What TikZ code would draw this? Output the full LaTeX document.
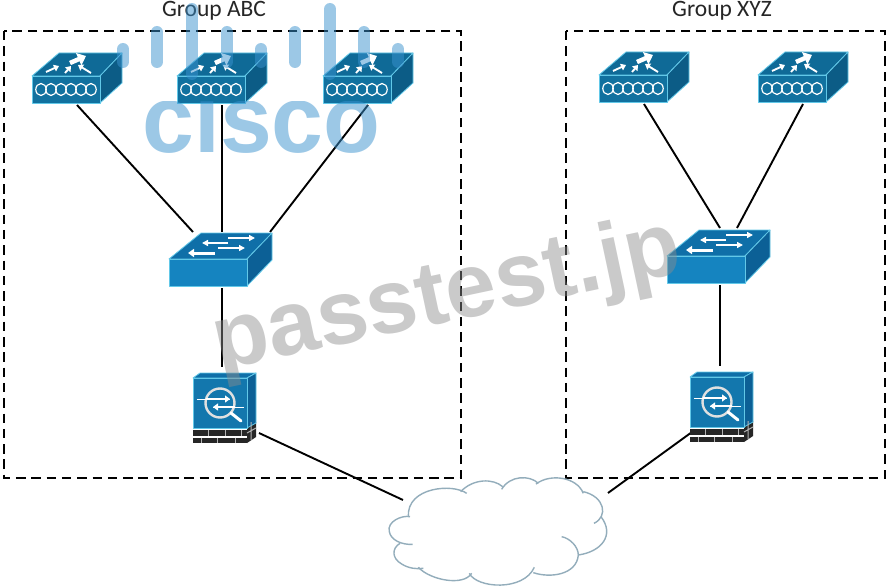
\documentclass[tikz,border=0pt]{standalone}
\usepackage{fontspec}
\setmainfont{Carlito}
\newfontfamily\wmfont{Liberation Sans}
\usetikzlibrary{arrows.meta}
\definecolor{hubfront}{HTML}{11719F}
\definecolor{hubtop}{HTML}{0F6A97}
\definecolor{hubside}{HTML}{0C5C86}
\definecolor{swfront}{HTML}{1584C0}
\definecolor{swtop}{HTML}{0F6FA8}
\definecolor{swside}{HTML}{0C6096}
\definecolor{edgeblue}{HTML}{62C8E8}
\definecolor{cloudline}{HTML}{93ADBB}
\definecolor{cisco}{HTML}{3A92CF}
\tikzset{
  device/.style={inner sep=0pt,outer sep=2pt,draw=none},
  link/.style={draw=black,line width=1.9pt},
  grp/.style={draw=black,line width=2.1pt,dash pattern=on 9.5pt off 5.8pt},
  label/.style={font=\fontsize{23.5}{23.5}\selectfont,text=black!85},
  facet/.style={draw=edgeblue,line width=.8pt,line join=round},
  wave/.style={draw=white,line width=1.2pt},
  hubarrow/.style={draw=white,line width=1.9pt,-{Triangle[length=5pt,width=7pt]}},
  swarrow/.style={draw=white,line width=1.4pt,-{Triangle[length=6pt,width=6pt]}},
  bar/.style={draw=cisco,opacity=.5,line width=12pt,line cap=round},
  hub/.pic={
    \path[facet,fill=hubtop] (0,0) -- (27,-23) -- (90,-23) -- (68,0) -- cycle;
    \path[facet,fill=hubside] (68,0) -- (90,-23) -- (90,7) -- (68,27) -- cycle;
    \path[facet,fill=hubfront] (0,0) rectangle (68,27);
    \foreach \lx in {9,19,29,39,49,59}
      \draw[wave] (\lx,13.5) ellipse (5.2 and 6);
    \draw[hubarrow] (14,-4) -- (27,-10);
    \draw[hubarrow] (33,-3) -- (39,-10);
    \draw[hubarrow] (59,-3) -- (46,-11);
    \draw[draw=white,line width=4.5pt,-{Triangle[length=8pt,width=13pt]}] (38,-13) -- (54,-20);
  },
  lanswitch/.pic={
    \path[facet,fill=swtop] (0,0) -- (32,-26) -- (103,-26) -- (78,0) -- cycle;
    \path[facet,fill=swside] (78,0) -- (103,-26) -- (103,1) -- (78,27) -- cycle;
    \path[facet,fill=swfront] (0,0) rectangle (78,27);
    \draw[swarrow] (59,-21) -- (86,-21);
    \draw[swarrow,line width=2.2pt] (59,-16) -- (33,-16);
    \draw[swarrow] (49,-11) -- (76,-11);
    \draw[swarrow,line width=3pt,-{Triangle[length=6pt,width=8pt]}] (46,-6) -- (19,-6);
  },
  firewall/.pic={
    \fill[black!85] (54,47) -- (63,44) -- (63,59) -- (54,65) -- cycle;
    \path[facet,fill=swtop] (0,0) -- (7,-5) -- (63,-5) -- (54,0) -- cycle;
    \path[facet,fill=swside] (54,0) -- (63,-5) -- (63,45) -- (54,50) -- cycle;
    \path[facet,fill=swfront!90!black] (0,0) rectangle (54,50);
    \fill[black!85] (0,52) rectangle (54,58);
    \fill[black!85] (0,59.5) rectangle (54,65);
    \draw[black!30,line width=1pt] (15,52) -- (15,58) (32,52) -- (32,58) (48,52) -- (48,58) (8,59.5) -- (8,65) (24,59.5) -- (24,65) (42,59.5) -- (42,65);
    \draw[black!30,line width=1pt] (58,44) -- (58,62) (54,55) -- (63,50);
    \draw[black!12,line width=2.4pt] (27,25) circle (14.5);
    \draw[white,line width=3pt,line cap=round] (38,35) -- (48,43);
    \draw[white,line width=.9pt] (4,21) -- (37,21);
    \draw[white,line width=.9pt] (20,29) -- (51,29);
    \draw[swarrow,line width=2.4pt,-{Triangle[length=5pt,width=7pt]}] (13,21) -- (37,21);
    \draw[swarrow,line width=2.4pt,-{Triangle[length=5pt,width=7pt]}] (42,29) -- (20,29);
  }
}
\begin{document}
\begin{tikzpicture}[x=1pt,y=-1pt]
\useasboundingbox[fill=white] (0,0) rectangle (889,586);

% groups
\node[device,minimum width=457pt,minimum height=447pt] (groupA) at (232.5,254.5) {};
\node[device,minimum width=319pt,minimum height=447pt] (groupX) at (725.5,254.5) {};
\path[grp] (4,31) rectangle (461,478);
\path[grp] (566,31) rectangle (885,478);
\node[label] (labA) at (214,10.5) {Group ABC};
\node[label] (labX) at (722,10.5) {Group XYZ};

% anchors of the devices
\node[device,minimum width=90pt,minimum height=50pt] (h1) at (77,78) {};
\node[device,minimum width=90pt,minimum height=50pt] (h2) at (222,78) {};
\node[device,minimum width=90pt,minimum height=50pt] (h3) at (368,78) {};
\node[device,minimum width=90pt,minimum height=50pt] (h4) at (644,77) {};
\node[device,minimum width=90pt,minimum height=50pt] (h5) at (803,77) {};
\node[device,minimum width=103pt,minimum height=53pt] (s1) at (220.5,259.5) {};
\node[device,minimum width=103pt,minimum height=53pt] (s2) at (718.5,256.5) {};
\node[device,minimum width=63pt,minimum height=71pt] (f1) at (224.5,407.5) {};
\node[device,minimum width=63pt,minimum height=71pt] (f2) at (721.5,406.5) {};
\node[device,minimum width=220pt,minimum height=108pt] (net) at (498,532) {};

% connectors
\draw[link] (h1.south) -- ([xshift=-27.5pt,yshift=-1pt]s1.north);
\draw[link] (h2.south) -- ([xshift=1.5pt,yshift=-1pt]s1.north);
\draw[link] (h3.south) -- ([xshift=49.5pt,yshift=-1pt]s1.north);
\draw[link] (h4.south) -- ([xshift=1.5pt]s2.north);
\draw[link] (h5.south) -- ([xshift=18.5pt]s2.north);
\draw[link] ([xshift=1.5pt]s1.south) -- ([xshift=-2.5pt,yshift=3pt]f1.north);
\draw[link] ([xshift=1.5pt]s2.south) -- ([xshift=-1.5pt,yshift=3pt]f2.north);
\draw[link] ([xshift=1pt,yshift=-25.5pt]f1.east) -- ([xshift=17pt,yshift=32pt]net.west);
\draw[link] ([xshift=-63pt,yshift=-25.5pt]f2.east) -- ([xshift=-2pt,yshift=39pt]net.east);

% device drawings
\pic at (32,76) {hub};
\pic at (177,76) {hub};
\pic at (323,76) {hub};
\pic at (599,75) {hub};
\pic at (758,75) {hub};
\pic at (169,259) {lanswitch};
\pic at (667,256) {lanswitch};
\pic at (193,378) {firewall};
\pic at (690,377) {firewall};

% cloud
\begin{scope}[shift={(370,460)},x=.3333pt,y=-.3333pt,draw=cloudline,line width=1.4pt]
\draw (120,170) .. controls (95,165) and (50,185) .. (58,215) .. controls (62,240) and (95,255) .. (128,253);
\draw (90,250) .. controls (65,265) and (65,295) .. (95,312) .. controls (115,325) and (140,328) .. (160,325);
\draw (145,322) .. controls (180,360) and (280,380) .. (305,340);
\draw (298,340) .. controls (320,385) and (460,395) .. (493,322);
\draw (490,338) .. controls (540,355) and (620,345) .. (625,285) .. controls (625,260) and (600,235) .. (575,230);
\draw (625,285) .. controls (695,275) and (735,225) .. (693,170);
\draw (672,190) .. controls (715,170) and (705,110) .. (640,95);
\draw (640,100) .. controls (620,50) and (540,40) .. (498,72);
\draw (505,70) .. controls (480,45) and (420,45) .. (395,88);
\draw (398,80) .. controls (370,55) and (310,55) .. (272,95);
\draw (290,100) .. controls (250,70) and (110,80) .. (115,170);
\end{scope}

% watermarks
\foreach \bx/\top/\bot in {123/49/62,157/32/62,192/9/74,227/32/62,261/49/62,295/32/62,330/9/74,364/32/62,398/49/62}
  \draw[bar] (\bx,\top) -- (\bx,\bot);
\begin{scope}
\clip (120,101) rectangle (400,170);
\node[font=\wmfont\bfseries\fontsize{96}{96}\selectfont,text=cisco,text opacity=.5,inner sep=0pt,anchor=base,xscale=.97] (wm1) at (261.5,152) {cisco};
\end{scope}
\node[font=\wmfont\bfseries\fontsize{91}{91}\selectfont,text=black!45,text opacity=.46,inner sep=0pt,rotate=12] (wm2) at (447,298) {passtest.jp};
\end{tikzpicture}
\end{document}
